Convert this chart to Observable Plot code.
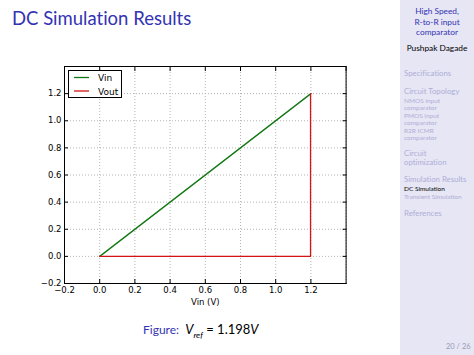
<!DOCTYPE html>
<html>
<head>
<meta charset="utf-8">
<script src="https://cdn.jsdelivr.net/npm/d3@7"></script>
<script src="https://cdn.jsdelivr.net/npm/@observablehq/plot@0.6"></script>
<style>
  html, body { margin: 0; padding: 0; background: #fff; }
  body { width: 474px; height: 355px; position: relative; overflow: hidden; font-family: Lato, "DejaVu Sans", sans-serif; font-variant-ligatures: none; }
  .abs { position: absolute; white-space: nowrap; }
  #title { left: 12px; top: 7px; font-size: 18.5px; color: #3333b3; }
  #sidebar { left: 400px; top: 0; width: 74px; height: 355px; background: #e6e6f5; }
  .sb { position: absolute; left: 4px; font-size: 7.8px; color: #aeaed6; white-space: nowrap; }
  .sbs { font-size: 6.5px; }
  .sbc { position: absolute; left: 0; width: 74px; text-align: center; font-size: 8.3px; color: #3333b3; }
  #chart { left: 30px; top: 55px; }
  #caption { left: 143px; top: 321px; font-size: 12px; color: #000; }
  #legend { left: 68px; top: 70px; width: 52px; height: 26px; border: 1px solid #000; background: #fff; }
</style>
</head>
<body>
<div id="title" class="abs">DC Simulation Results</div>
<div id="sidebar" class="abs">
  <div class="sbc" style="top:6px;">High Speed,</div>
  <div class="sbc" style="top:17px;">R-to-R input</div>
  <div class="sbc" style="top:27px;">comparator</div>
  <div class="sbc" style="top:43px;color:#000;">Pushpak Dagade</div>
  <div class="sb" style="top:68px;">Specifications</div>
  <div class="sb" style="top:86px;">Circuit Topology</div>
  <div class="sb sbs" style="top:97px;">NMOS input</div>
  <div class="sb sbs" style="top:104px;">comparator</div>
  <div class="sb sbs" style="top:112px;">PMOS input</div>
  <div class="sb sbs" style="top:119px;">comparator</div>
  <div class="sb sbs" style="top:127px;">R2R ICMR</div>
  <div class="sb sbs" style="top:134px;">comparator</div>
  <div class="sb" style="top:148px;">Circuit</div>
  <div class="sb" style="top:157px;">optimization</div>
  <div class="sb" style="top:174px;">Simulation Results</div>
  <div class="sb sbs" style="top:185px;color:#000;">DC Simulation</div>
  <div class="sb sbs" style="top:193px;">Transient Simulation</div>
  <div class="sb" style="top:208px;">References</div>
  <div class="sb" style="top:342px;left:46px;color:#9a9ab4;font-size:7.5px;">20 / 26</div>
</div>
<div id="chart" class="abs"></div>
<div id="legend" class="abs">
  <svg width="52" height="26" style="position:absolute;left:0;top:0;">
    <line x1="5" x2="20" y1="6.5" y2="6.5" stroke="#127812" stroke-width="1.3"/>
    <line x1="5" x2="20" y1="20" y2="20" stroke="#d41414" stroke-width="1.3"/>
    <text x="29" y="10" font-size="9" font-family="DejaVu Sans, sans-serif">Vin</text>
    <text x="29" y="23.5" font-size="9" font-family="DejaVu Sans, sans-serif">Vout</text>
  </svg>
</div>
<div id="caption" class="abs"><span style="color:#3333b3;">Figure:</span>&nbsp; <span style="font-size:13px;"><i>V</i><sub style="font-size:8.5px;"><i>ref</i></sub> = 1.198<i>V</i></span></div>
<script>
// Data
const vinX = [0, 1.2];
const vinY = [0, 1.2];
const voutX = [0, 1.198, 1.198, 1.2];
const voutY = [0, 0, 1.2, 1.2];
const ticks = [-0.2, 0, 0.2, 0.4, 0.6, 0.8, 1.0, 1.2, 1.4];
const seriesNames = ["Vin", "Vout"];
const seriesColors = ["#127812", "#d41414"];

const vin = vinX.map((x, i) => ({x, y: vinY[i], s: seriesNames[0]}));
const vout = voutX.map((x, i) => ({x, y: voutY[i], s: seriesNames[1]}));
const fmt = d3.format(".1f");
const xLabelTicks = ticks.slice(0, 8);
const yLabelTicks = ticks.slice(0, 8);

const chart = Plot.plot({
  width: 330,
  height: 260,
  marginLeft: 34,
  marginTop: 11,
  marginRight: 14.4,
  marginBottom: 32,
  style: {fontFamily: "'DejaVu Sans', sans-serif", fontSize: "8.5px", color: "#000", background: "transparent", overflow: "visible"},
  x: {domain: [-0.2, 1.4], label: null},
  y: {domain: [-0.2, 1.4], label: null},
  color: {domain: seriesNames, range: seriesColors},
  marks: [
    Plot.gridX(ticks, {stroke: "#b4b4b4", strokeOpacity: 1, strokeDasharray: "1,2"}),
    Plot.gridY(ticks, {stroke: "#b4b4b4", strokeOpacity: 1, strokeDasharray: "1,2"}),
    Plot.line(vin, {x: "x", y: "y", stroke: "s", strokeWidth: 1.3}),
    Plot.line(vout, {x: "x", y: "y", stroke: "s", strokeWidth: 1.3}),
    Plot.axisX(xLabelTicks, {anchor: "bottom", tickSize: -4, tickPadding: 7, tickFormat: fmt}),
    Plot.axisX(ticks, {anchor: "top", tickSize: -4, tickFormat: () => ""}),
    Plot.axisY(yLabelTicks, {anchor: "left", tickSize: -4, tickPadding: 7, tickFormat: fmt}),
    Plot.axisY(ticks, {anchor: "right", tickSize: -4, tickFormat: () => ""}),
    Plot.text(["Vin (V)"], {frameAnchor: "bottom", dy: 21, fontSize: 8.5}),
    Plot.frame({stroke: "#000", strokeWidth: 1})
  ]
});
document.getElementById("chart").appendChild(chart);
</script>
</body>
</html>
